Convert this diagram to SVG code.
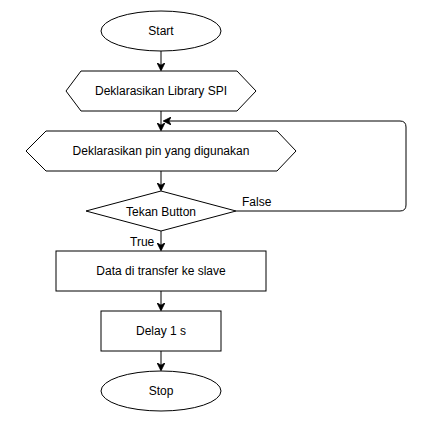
<svg xmlns="http://www.w3.org/2000/svg" width="432" height="437" viewBox="0 0 432 437">
<style>
.s{fill:#fff;stroke:#000;stroke-width:1}
.t{font-family:"Liberation Sans",Arial,sans-serif;font-size:12px;fill:#000;text-anchor:middle}
.l{font-family:"Liberation Sans",Arial,sans-serif;font-size:12px;fill:#000}
.c{fill:none;stroke:#000;stroke-width:1}
</style>
<defs>
<marker id="a" viewBox="0 0 10 10" refX="9" refY="5" markerWidth="8" markerHeight="8" markerUnits="userSpaceOnUse" orient="auto">
<path d="M0,0 L10,5 L0,10 L3,5 Z" fill="#000" stroke="#000" stroke-width="1"/>
</marker>
</defs>
<rect width="432" height="437" fill="#fff"/>
<g id="connectors">
<path class="c" d="M161,51 V70" marker-end="url(#a)"/>
<path class="c" d="M161,111 V130" marker-end="url(#a)"/>
<path class="c" d="M161,171 V190" marker-end="url(#a)"/>
<path class="c" d="M236,211 H400 Q406,211 406,205 V127 Q406,121 400,121 H164" marker-end="url(#a)"/>
<path class="c" d="M161,231 V250" marker-end="url(#a)"/>
<path class="c" d="M161,291 V310" marker-end="url(#a)"/>
<path class="c" d="M161,351 V370" marker-end="url(#a)"/>
<text class="l" x="242" y="206">False</text>
<text class="l" x="130" y="246">True</text>
</g>
<g id="start">
<ellipse class="s" cx="161" cy="31" rx="60" ry="20"/>
<text class="t" x="161" y="35">Start</text>
</g>
<g id="library">
<polygon class="s" points="81,71 237,71 256,91 237,111 81,111 66,91"/>
<text class="t" x="161" y="95">Deklarasikan Library SPI</text>
</g>
<g id="pin">
<polygon class="s" points="46,131 277,131 296,151 277,171 46,171 26,151"/>
<text class="t" x="161" y="155">Deklarasikan pin yang digunakan</text>
</g>
<g id="button">
<polygon class="s" points="161,191 236,211 161,231 86,211"/>
<text class="t" x="161" y="216">Tekan Button</text>
</g>
<g id="transfer">
<rect class="s" x="56" y="251" width="210" height="40"/>
<text class="t" x="161" y="275">Data di transfer ke slave</text>
</g>
<g id="delay">
<rect class="s" x="101" y="311" width="120" height="40"/>
<text class="t" x="161" y="335">Delay 1 s</text>
</g>
<g id="stop">
<ellipse class="s" cx="161" cy="391" rx="60" ry="20"/>
<text class="t" x="161" y="395">Stop</text>
</g>
</svg>
